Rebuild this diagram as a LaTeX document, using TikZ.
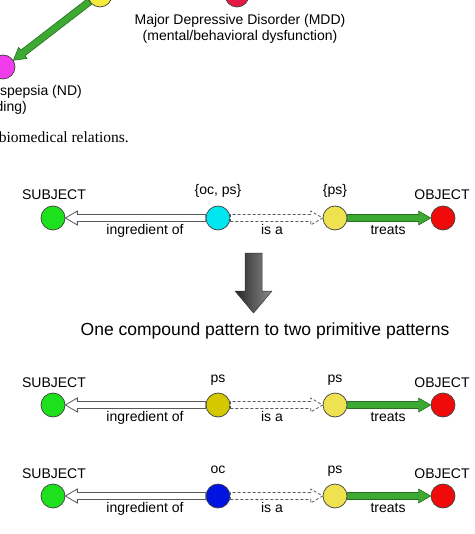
\documentclass[tikz,border=0pt]{standalone}
\usepackage{fontspec}
\setmainfont{Liberation Sans}
\newfontfamily\capfont{Liberation Serif}
\usetikzlibrary{calc}

\definecolor{subjgreen}{RGB}{30,225,30}
\definecolor{ocps}{RGB}{0,230,240}
\definecolor{psyellow}{RGB}{238,226,80}
\definecolor{psdark}{RGB}{212,200,0}
\definecolor{ocblue}{RGB}{0,20,225}
\definecolor{objred}{RGB}{240,10,10}
\definecolor{treatgreen}{RGB}{60,170,50}
\definecolor{ndmagenta}{RGB}{240,60,235}
\definecolor{topyellow}{RGB}{245,235,60}
\definecolor{mddred}{RGB}{230,25,70}

\tikzset{
  entity/.style={circle,draw=black!75,line width=0.7pt,minimum size=24pt,inner sep=0pt},
  role/.style={font=\fontsize{14}{16}\selectfont,anchor=base,inner sep=0pt},
  rel/.style={font=\fontsize{14}{16}\selectfont,anchor=base,inner sep=0pt},
  fat arrow/.style={to path={
    ($(\tikztostart)!3.5pt!-90:(\tikztotarget)$)
    -- ($(\tikztotarget)!12pt!(\tikztostart)!3.5pt!90:(\tikztostart)$)
    -- ($(\tikztotarget)!12pt!(\tikztostart)!7pt!90:(\tikztostart)$)
    -- (\tikztotarget)
    -- ($(\tikztotarget)!12pt!(\tikztostart)!7pt!-90:(\tikztostart)$)
    -- ($(\tikztotarget)!12pt!(\tikztostart)!3.5pt!-90:(\tikztostart)$)
    -- ($(\tikztostart)!3.5pt!90:(\tikztotarget)$)
    -- cycle}},
  hollow/.style={fat arrow,fill=white,draw=black!65,line width=0.8pt,line join=miter},
  treatarrow/.style={fat arrow,fill=treatgreen,draw=treatgreen!65!black,line width=0.6pt},
}

\begin{document}
\begin{tikzpicture}[x=1pt,y=1pt,line join=round]
\useasboundingbox (0,0) rectangle (474,-534);
\fill[white] (0,0) rectangle (474,-534);

% top of the figure above (cut off)
\node[entity,fill=topyellow] (ty) at (100,5) {};
\node[entity,fill=mddred] (tmdd) at (237,5) {};
\node[entity,fill=ndmagenta] (tnd) at (3,-67) {};
\draw[treatarrow] (ty.212) to (tnd.33);
\node[align=center,font=\fontsize{14}{15.5}\selectfont,inner sep=0pt] (mddlab) at (240,-29)
  {Major Depressive Disorder (MDD)\\(mental/behavioral dysfunction)};
\node[role,anchor=base east] (ndlab) at (82,-96) {spepsia (ND)};
\node[role,anchor=base east] (ndlabb) at (27,-111.5) {ding)};
\node[anchor=base east,inner sep=0pt,font=\capfont\fontsize{15.5}{18}\selectfont] (caplab) at (129,-142.5) {biomedical relations.};

% the three patterns
\foreach \r/\y/\mcol/\mtxt/\ptxt in {1/218/ocps/{\{oc, ps\}}/{\{ps\}},2/405/psdark/ps/ps,3/496/ocblue/oc/ps}{
  \node[entity,fill=subjgreen] (s\r) at (53,-\y) {};
  \node[entity,fill=\mcol] (m\r) at (218,-\y) {};
  \node[entity,fill=psyellow] (p\r) at (335,-\y) {};
  \node[entity,fill=objred] (o\r) at (443,-\y) {};
  \node[role] (slab\r) at (54,-\y+18) {SUBJECT};
  \node[role] (mlab\r) at (218,-\y+23) {\mtxt};
  \node[role] (plab\r) at (335,-\y+23) {\ptxt};
  \node[role] (olab\r) at (442,-\y+18) {OBJECT};
  \draw[hollow] (m\r.west) to (s\r.east);
  \draw[hollow,dash pattern=on 3pt off 2pt] (m\r.east) to (p\r.west);
  \draw[treatarrow] (p\r.east) to (o\r.west);
  \node[rel] (ing\r) at (145,-\y-16) {ingredient of};
  \node[rel] (isa\r) at (272,-\y-16) {is a};
  \node[rel] (tr\r) at (388,-\y-16) {treats};
}

% big arrow down
\shade[left color=black!85,right color=black!45,draw=black!80,line width=0.5pt]
  (245,-253) -- (262,-253) -- (262,-291) -- (272,-291) -- (253.5,-313)
  -- (235,-291) -- (245,-291) -- cycle;
\node[anchor=base,inner sep=0pt,font=\fontsize{17.5}{20}\selectfont] (split) at (265,-335)
  {One compound pattern to two primitive patterns};

\end{tikzpicture}
\end{document}
